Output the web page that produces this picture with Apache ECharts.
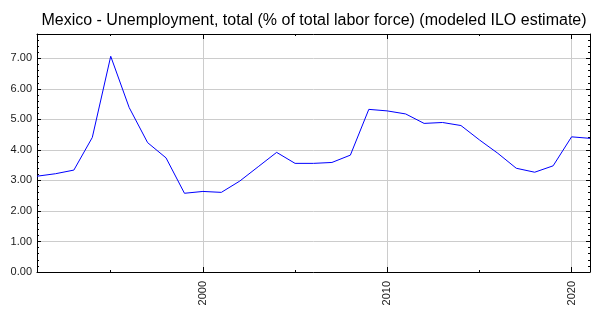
<!DOCTYPE html>
<html>
<head>
<meta charset="utf-8">
<script src="https://cdn.jsdelivr.net/npm/echarts@6/dist/echarts.min.js"></script>
<style>html,body{margin:0;padding:0;background:#fff}#c{width:600px;height:315px}</style>
</head>
<body>
<div id="c"></div>
<script>
var titleText = "Mexico - Unemployment, total (% of total labor force) (modeled ILO estimate)";
var years = [1991,1992,1993,1994,1995,1996,1997,1998,1999,2000,2001,2002,2003,2004,2005,2006,2007,2008,2009,2010,2011,2012,2013,2014,2015,2016,2017,2018,2019,2020,2021];
var values = [3.14,3.22,3.34,4.41,7.07,5.39,4.24,3.74,2.58,2.64,2.61,2.98,3.45,3.92,3.56,3.56,3.59,3.83,5.33,5.28,5.18,4.87,4.90,4.80,4.33,3.89,3.40,3.27,3.48,4.43,4.38];
var xMajorTicks = [2000,2010,2020];
var xMinorTicks = [1995,2005,2015];
var xMin = 1991, xMax = 2021;
var yMin = 0, yMax = 7.8;

var chart = echarts.init(document.getElementById('c'), null, {renderer:'canvas'});
var txt = '#1a1a1a';
var font = 'Liberation Sans, Arial, sans-serif';
function xa(pos, ticks, len, showLine, showLabel, showSplit) {
  return {
    type:'value', min:xMin, max:xMax, position:pos,
    axisLine:{show:showLine, onZero:false, lineStyle:{color:'#000', width:1}},
    axisTick:{show:true, inside:true, length:len, customValues:ticks, lineStyle:{color:'#000'}},
    axisLabel:{show:showLabel, customValues:ticks, rotate:90, margin:9, color:txt, fontSize:11, fontFamily:font,
      formatter:function(v){return String(Math.round(v));}},
    splitLine:{show:showSplit, lineStyle:{color:'#cccccc', width:1}}
  };
}
function ya(pos, interval, len, showLine, showLabel, showSplit) {
  return {
    type:'value', min:yMin, max:yMax, interval:interval, position:pos,
    axisLine:{show:showLine, onZero:false, lineStyle:{color:'#000', width:1}},
    axisTick:{show:true, inside:true, length:len, lineStyle:{color:'#000'}},
    axisLabel:{show:showLabel, showMaxLabel:false, margin:5, color:txt, fontSize:11, fontFamily:font,
      formatter:function(v){return v.toFixed(2);}},
    splitLine:{show:showSplit, lineStyle:{color:'#cccccc', width:1}}
  };
}
var series = years.map(function(y,i){return [y, values[i]];});
chart.setOption({
  animation:false,
  backgroundColor:'#fff',
  title:{text:titleText, left:309, textAlign:'center', top:8,
    textStyle:{fontSize:16, fontWeight:'normal', color:'#000', fontFamily:font}},
  grid:{left:37, right:10, top:34, bottom:43, containLabel:false},
  xAxis:[
    xa('bottom', xMajorTicks, 5, true, true, true),
    xa('bottom', xMinorTicks, 2, false, false, false),
    xa('top', xMajorTicks, 5, true, false, false),
    xa('top', xMinorTicks, 2, false, false, false)
  ],
  yAxis:[
    ya('left', 1, 4, true, true, true),
    ya('left', 0.2, 2, false, false, false),
    ya('right', 1, 4, true, false, false),
    ya('right', 0.2, 2, false, false, false)
  ],
  series:[{type:'line', data:series, xAxisIndex:0, yAxisIndex:0, showSymbol:false, symbol:'none',
    lineStyle:{color:'#0000ff', width:1}, itemStyle:{color:'#0000ff'}}]
});
</script>
</body>
</html>
